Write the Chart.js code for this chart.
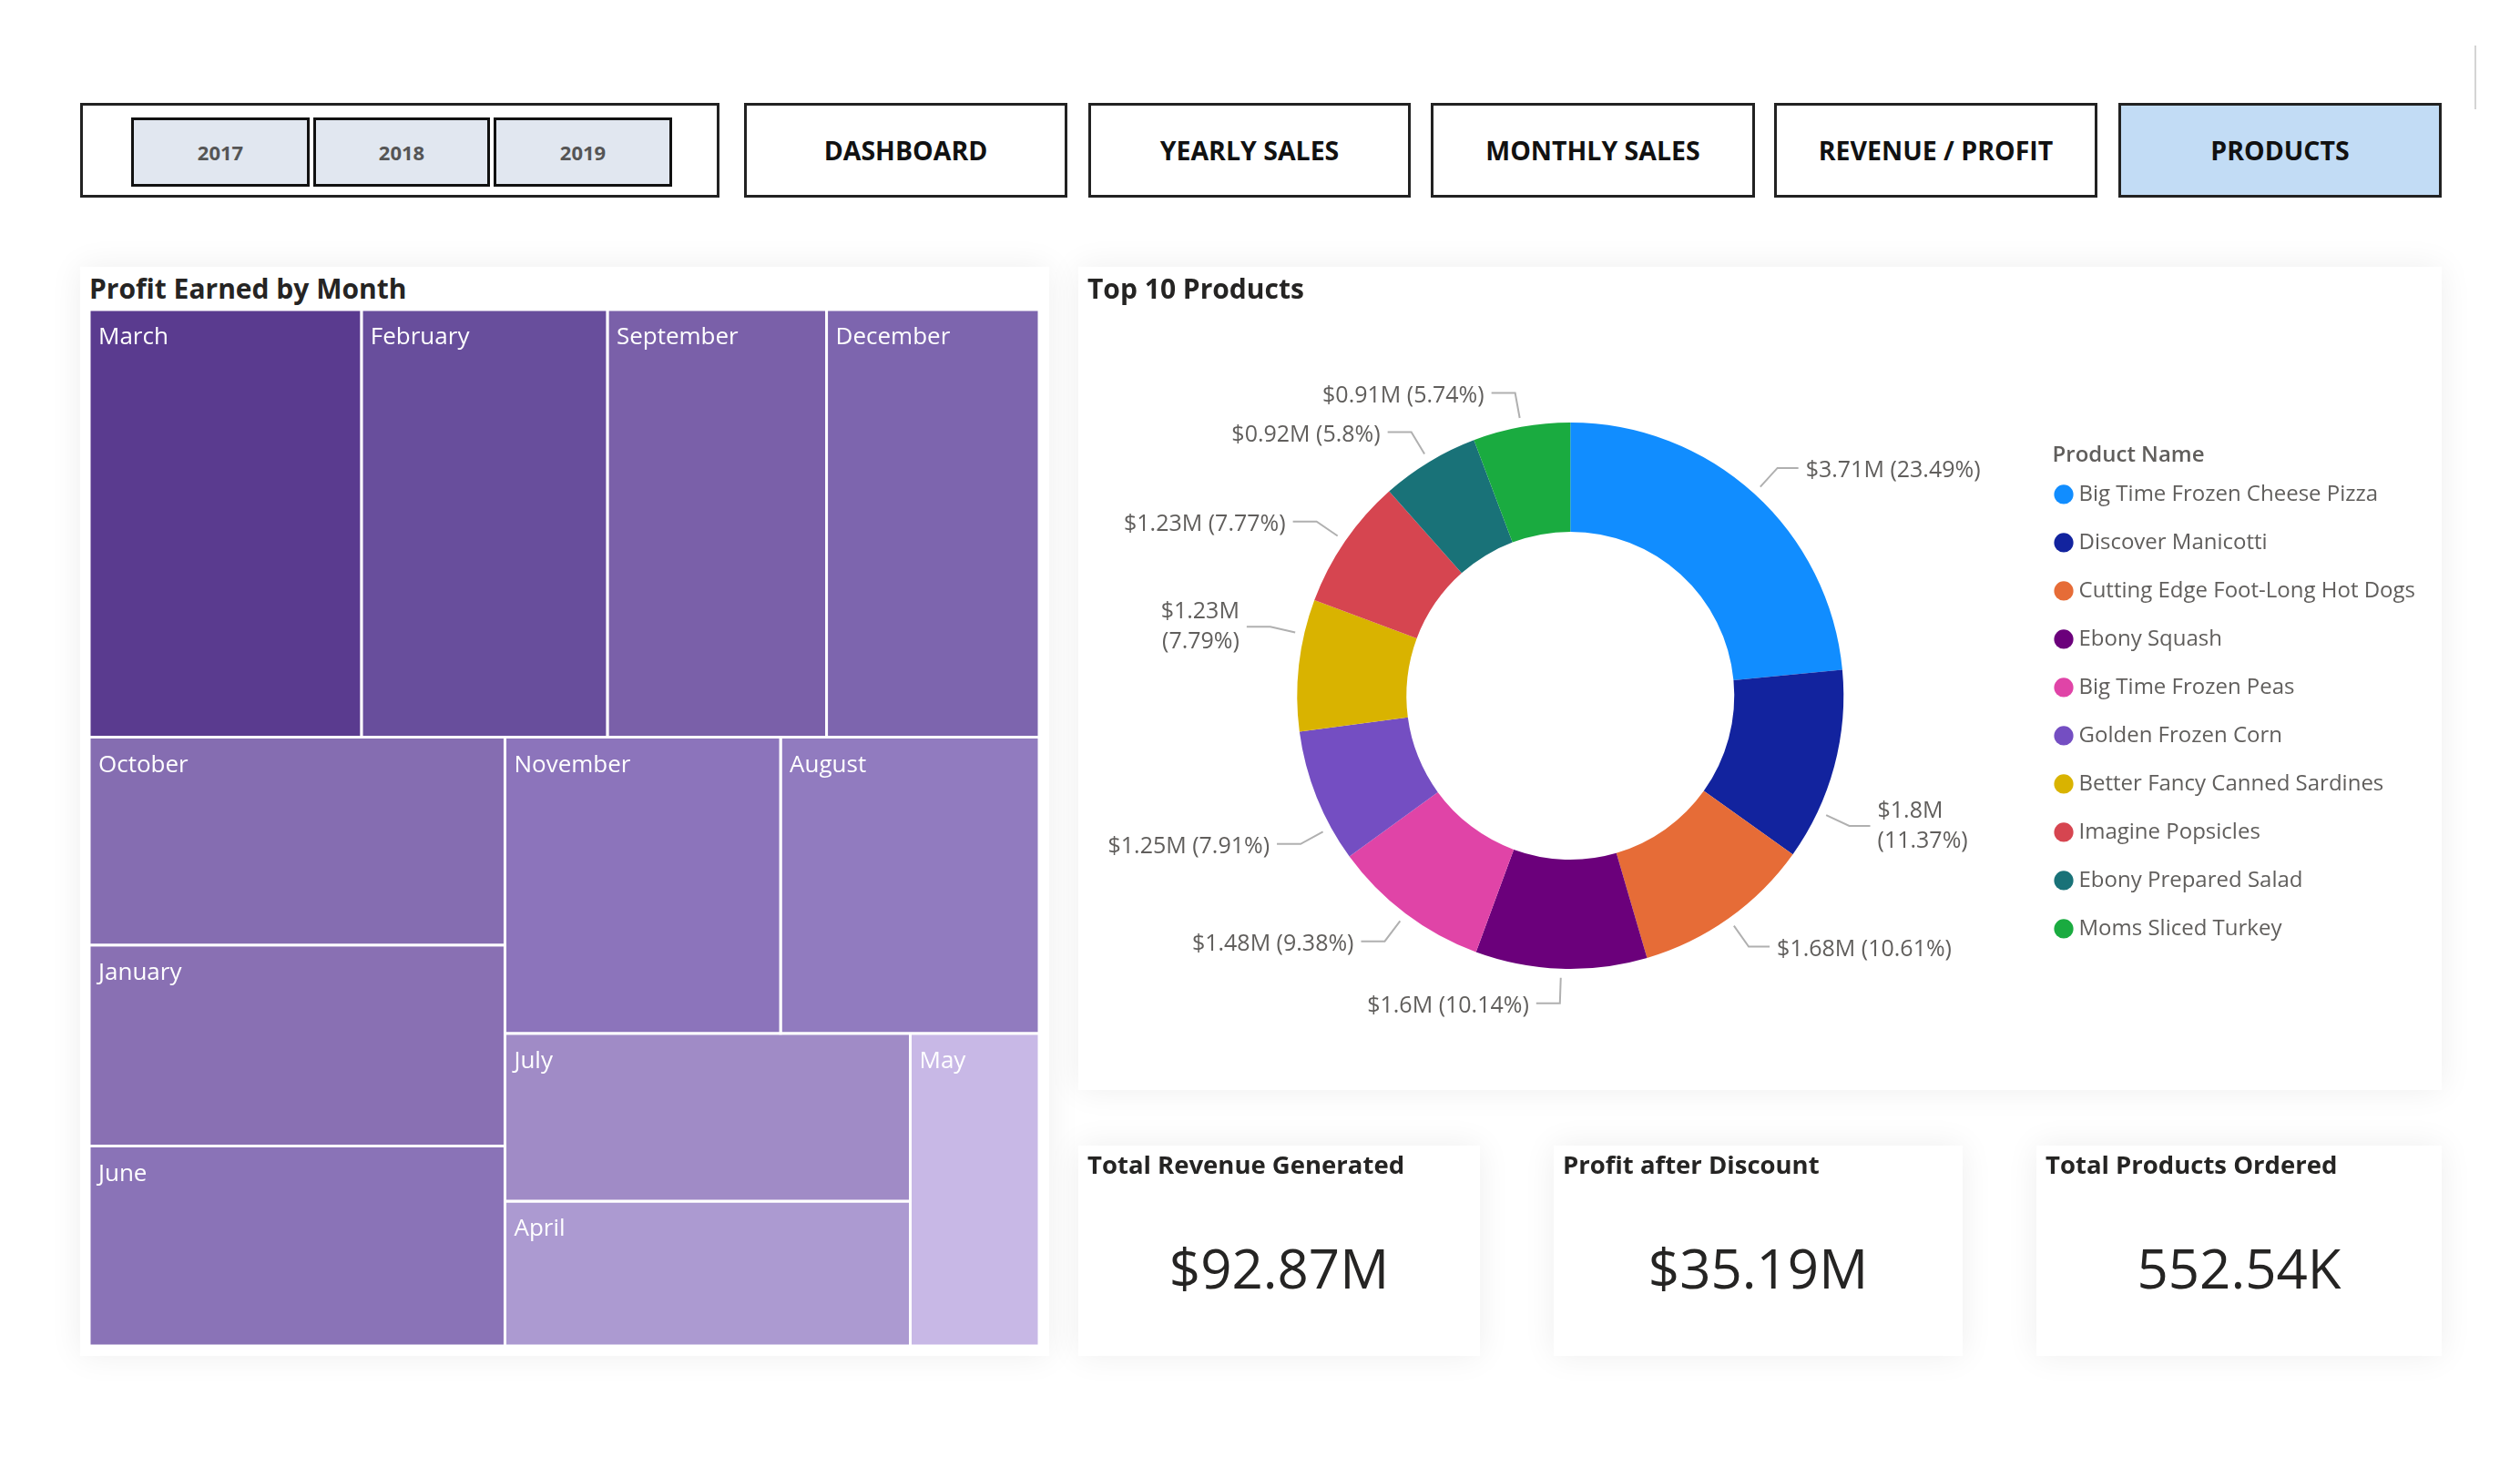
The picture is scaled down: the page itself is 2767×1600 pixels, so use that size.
<!DOCTYPE html>
<html>
<head>
<meta charset="utf-8">
<title>Products</title>
<script src="https://cdn.jsdelivr.net/npm/chart.js@4"></script>
<style>
  html, body { margin: 0; background: #fff; }
  body { position: relative; width: 2767px; height: 1600px; overflow: hidden; font-family: 'Open Sans', sans-serif; color: #252423; }
  .abs { position: absolute; box-sizing: border-box; }
  .btn { display: flex; align-items: center; justify-content: center; border: 3px solid #222; font-weight: 700; font-size: 28.5px; color: #111; background: #fff; }
  .year { background: #e1e7f0; color: #555; font-size: 22px; border: 3px solid #111; }
  .panel { background: #fff; box-shadow: 0 0 34px rgba(0,0,0,.07); }
  .title { position: absolute; left: 10px; font-weight: 700; font-size: 30px; line-height: 40px; white-space: nowrap; }
  .small { font-size: 27.5px; }
  .kpi { position: absolute; left: 0; right: 0; text-align: center; font-size: 60px; line-height: 80px; }
</style>
</head>
<body>
<div class="abs" style="left:2717px;top:50px;width:2px;height:70px;background:#d4d4d4"></div>
<div class="abs btn" style="left:88px;top:113px;width:702px;height:104px"></div>
<div class="abs btn year" style="left:144px;top:129px;width:196px;height:76px">2017</div>
<div class="abs btn year" style="left:344px;top:129px;width:194px;height:76px">2018</div>
<div class="abs btn year" style="left:542px;top:129px;width:196px;height:76px">2019</div>
<div class="abs btn" style="left:817px;top:113px;width:355px;height:104px">DASHBOARD</div>
<div class="abs btn" style="left:1195px;top:113px;width:354px;height:104px">YEARLY SALES</div>
<div class="abs btn" style="left:1571px;top:113px;width:356px;height:104px">MONTHLY SALES</div>
<div class="abs btn" style="left:1948px;top:113px;width:355px;height:104px">REVENUE / PROFIT</div>
<div class="abs btn" style="left:2326px;top:113px;width:355px;height:104px;background:#c2dcf5">PRODUCTS</div>

<div class="abs panel" style="left:88px;top:293px;width:1064px;height:1196px">
  <div class="title" style="top:4px">Profit Earned by Month</div>
</div>
<div class="abs" style="left:98px;top:340px;width:1043px;height:1138px"><canvas id="chart-months"></canvas></div>

<div class="abs panel" style="left:1184px;top:293px;width:1497px;height:904px">
  <div class="title" style="top:4px">Top 10 Products</div>
</div>
<div class="abs" style="left:1184px;top:293px;width:1497px;height:904px"><canvas id="chart-products"></canvas></div>

<div class="abs panel" style="left:1184px;top:1258px;width:441px;height:231px">
  <div class="title small" style="top:1px">Total Revenue Generated</div>
  <div class="kpi" style="top:94px" id="kpi-revenue"></div>
</div>
<div class="abs panel" style="left:1706px;top:1258px;width:449px;height:231px">
  <div class="title small" style="top:1px">Profit after Discount</div>
  <div class="kpi" style="top:94px" id="kpi-profit"></div>
</div>
<div class="abs panel" style="left:2236px;top:1258px;width:445px;height:231px">
  <div class="title small" style="top:1px">Total Products Ordered</div>
  <div class="kpi" style="top:94px" id="kpi-orders"></div>
</div>

<script>
// monthly profit ($M)
const months = ['March', 'February', 'September', 'December', 'October', 'January', 'June', 'November', 'August', 'July', 'April', 'May'];
const monthProfit = [4.16, 3.76, 3.35, 3.25, 3.09, 2.99, 2.97, 2.92, 2.74, 2.43, 2.10, 1.44];
const monthColors = ['#5a3b8f', '#684e9c', '#7a60a9', '#7d65ae', '#856db1', '#8970b3', '#8a73b7', '#8c74bb', '#917bbf', '#a08bc6', '#ac9ad1', '#c8b8e6'];

const products = ['Big Time Frozen Cheese Pizza', 'Discover Manicotti', 'Cutting Edge Foot-Long Hot Dogs', 'Ebony Squash', 'Big Time Frozen Peas', 'Golden Frozen Corn', 'Better Fancy Canned Sardines', 'Imagine Popsicles', 'Ebony Prepared Salad', 'Moms Sliced Turkey'];
const productProfit = [3.71, 1.8, 1.68, 1.6, 1.48, 1.25, 1.23, 1.23, 0.92, 0.91];
const productShare = [23.49, 11.37, 10.61, 10.14, 9.38, 7.91, 7.79, 7.77, 5.8, 5.74];
const productColors = ['#118dff', '#12239e', '#e66c37', '#6b007b', '#e044a7', '#744ec2', '#d9b300', '#d64550', '#197278', '#1aab40'];

const kpiRevenue = '$92.87M';
const kpiProfit = '$35.19M';
const kpiOrders = '552.54K';

document.getElementById('kpi-revenue').textContent = kpiRevenue;
document.getElementById('kpi-profit').textContent = kpiProfit;
document.getElementById('kpi-orders').textContent = kpiOrders;

Chart.defaults.font.family = "'Open Sans', sans-serif";
Chart.defaults.animation = false;

// Split a rectangle by the summed profit of each child. Leaves are month indexes.
// dir 'h' puts children side by side, 'v' stacks them.
const sumNode = n => typeof n === 'number' ? monthProfit[n] : n.kids.reduce((s, k) => s + sumNode(k), 0);
function sliceNode(node, x0, y0, x1, y1, out) {
  if (typeof node === 'number') {
    out[node] = { x0, y0, x1, y1 };
    return out;
  }
  const total = sumNode(node);
  let pos = node.dir === 'h' ? x0 : y0;
  node.kids.forEach(k => {
    const size = sumNode(k) / total * (node.dir === 'h' ? x1 - x0 : y1 - y0);
    if (node.dir === 'h') sliceNode(k, pos, y0, pos + size, y1, out);
    else sliceNode(k, x0, pos, x1, pos + size, out);
    pos += size;
  });
  return out;
}
const monthTree = { dir: 'v', kids: [
  { dir: 'h', kids: [0, 1, 2, 3] },
  { dir: 'h', kids: [
    { dir: 'v', kids: [4, 5, 6] },
    { dir: 'v', kids: [
      { dir: 'h', kids: [7, 8] },
      { dir: 'h', kids: [{ dir: 'v', kids: [9, 10] }, 11] }
    ] }
  ] }
] };
const cells = sliceNode(monthTree, 0, 0, 1, 1, []);

const cellLabels = {
  id: 'cellLabels',
  afterDatasetsDraw(chart) {
    const { ctx, scales } = chart;
    ctx.save();
    ctx.fillStyle = '#fff';
    ctx.font = "26px 'Open Sans', sans-serif";
    ctx.textBaseline = 'middle';
    months.forEach((m, i) => {
      ctx.fillText(m, scales.x.getPixelForValue(cells[i].x0) + 10, scales.y.getPixelForValue(cells[i].y0) + 31);
    });
    ctx.restore();
  }
};

new Chart(document.getElementById('chart-months'), {
  type: 'scatter',
  data: {
    datasets: months.map((m, i) => {
      const c = cells[i];
      return {
        label: m,
        data: [{ x: c.x0, y: c.y0 }, { x: c.x1, y: c.y0 }, { x: c.x1, y: c.y1 }, { x: c.x0, y: c.y1 }, { x: c.x0, y: c.y0 }],
        showLine: true,
        fill: 'shape',
        tension: 0,
        backgroundColor: monthColors[i],
        borderColor: '#fff',
        borderWidth: 3,
        pointRadius: 0
      };
    })
  },
  options: {
    responsive: true,
    maintainAspectRatio: false,
    plugins: { legend: { display: false }, tooltip: { enabled: false } },
    scales: {
      x: { display: false, min: 0, max: 1 },
      y: { display: false, min: 0, max: 1, reverse: true }
    }
  },
  plugins: [cellLabels]
});

// extra degrees on a leader where the original moved it off the slice middle
const leaderNudge = { 1: 10, 5: -7, 6: 6.5 };
const wrappedLabels = [1, 6];

const sliceLabels = {
  id: 'sliceLabels',
  afterDatasetsDraw(chart) {
    const { ctx } = chart;
    ctx.save();
    ctx.font = "25px 'Open Sans', sans-serif";
    ctx.textBaseline = 'middle';
    chart.getDatasetMeta(0).data.forEach((arc, i) => {
      const { x, y, startAngle, endAngle, outerRadius } = arc.getProps(['x', 'y', 'startAngle', 'endAngle', 'outerRadius'], true);
      const a = (startAngle + endAngle) / 2 + (leaderNudge[i] || 0) * Math.PI / 180;
      const cos = Math.cos(a), sin = Math.sin(a), side = cos >= 0 ? 1 : -1;
      const ex = x + cos * (outerRadius + 38), ey = y + sin * (outerRadius + 38);
      const gap = side > 0 ? 31 : 34;
      ctx.strokeStyle = '#b0b0b0';
      ctx.lineWidth = 2;
      ctx.beginPath();
      ctx.moveTo(x + cos * (outerRadius + 10), y + sin * (outerRadius + 10));
      ctx.lineTo(ex, ey);
      ctx.lineTo(ex + side * (gap - 8), ey);
      ctx.stroke();
      ctx.fillStyle = '#605e5c';
      ctx.textAlign = side > 0 ? 'left' : 'right';
      const money = '$' + productProfit[i] + 'M', pct = '(' + productShare[i] + '%)';
      if (wrappedLabels.includes(i)) {
        ctx.fillText(money, ex + side * gap, ey - 16);
        ctx.fillText(pct, ex + side * gap, ey + 17);
      } else {
        ctx.fillText(money + ' ' + pct, ex + side * gap, ey + 3);
      }
    });
    // legend heading sits further left than the chart.js title would put it
    const first = chart.legend.legendHitBoxes[0];
    ctx.textAlign = 'left';
    ctx.fillStyle = '#605e5c';
    ctx.font = "600 24px 'Open Sans', sans-serif";
    ctx.fillText('Product Name', first.left - 8, first.top + first.height / 2 - 43);
    ctx.restore();
  }
};

new Chart(document.getElementById('chart-products'), {
  type: 'doughnut',
  data: {
    labels: products,
    datasets: [{
      data: productShare,
      backgroundColor: productColors,
      borderWidth: 0,
      radius: 300,
      cutout: '60%'
    }]
  },
  options: {
    responsive: true,
    maintainAspectRatio: false,
    layout: { padding: { left: 32, top: 38, right: 19 } },
    plugins: {
      tooltip: { enabled: false },
      legend: {
        position: 'right',
        title: { display: true, text: ' ', position: 'start', padding: 3, font: { size: 24 } },
        labels: {
          usePointStyle: true,
          pointStyle: 'circle',
          boxWidth: 9,
          boxHeight: 15,
          padding: 29,
          color: '#605e5c',
          font: { size: 24 }
        }
      }
    }
  },
  plugins: [sliceLabels]
});
</script>
</body>
</html>
